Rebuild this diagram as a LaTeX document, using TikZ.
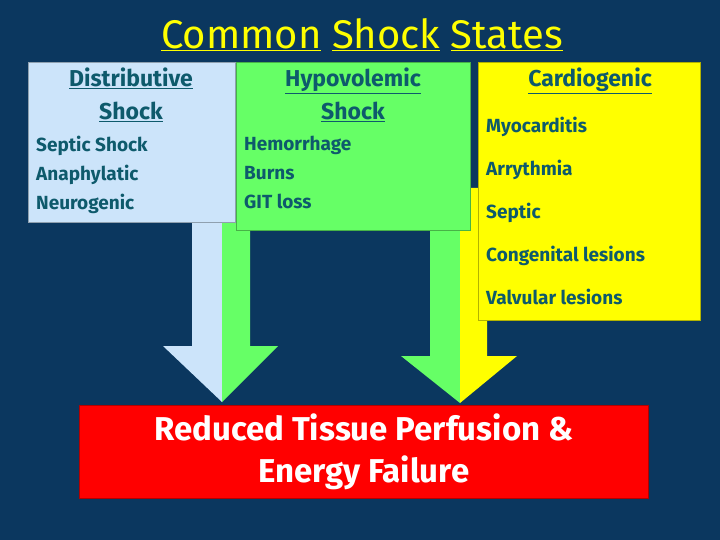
\documentclass[tikz,border=0pt]{standalone}
\usepackage{fontspec}
\setmainfont{Fira Sans}
\begin{document}
\begin{tikzpicture}[x=1pt,y=-1pt,
  box/.style={draw=#1!70!black,line width=0.6pt,anchor=north west,inner sep=0pt},
  txt/.style={text=tealtxt,font=\fontsize{19}{29}\selectfont\bfseries,align=left,anchor=north west,inner sep=0pt}]
\definecolor{bg}{HTML}{0B375F}
\definecolor{tealtxt}{HTML}{0E5A6C}
\definecolor{lblue}{HTML}{CCE4FA}
\definecolor{lgreen}{HTML}{66FF66}
\definecolor{yel}{HTML}{FFFF00}
\fill[bg] (0,0) rectangle (720,540);
\useasboundingbox (0,0) rectangle (720,540);
% arrows
\fill[lblue] (192,210) -- (222,210) -- (222,402) -- (163,346) -- (192,346) -- cycle;
\fill[lgreen] (222,210) -- (250,210) -- (250,346) -- (278,346) -- (222,402) -- cycle;
\fill[lgreen] (430,188) -- (460,188) -- (460,403) -- (401,356) -- (430,356) -- cycle;
\fill[yel] (460,188) -- (487,188) -- (487,356) -- (517,356) -- (460,403) -- cycle;
% boxes
\node[box=lblue,fill=lblue,minimum width=207pt,minimum height=160pt] (d) at (28,62) {};
\node[box=lgreen,fill=lgreen,minimum width=234pt,minimum height=168pt] (h) at (236,62) {};
\node[box=yel,fill=yel,minimum width=222pt,minimum height=258pt] (c) at (478,62) {};
\node[box=red,fill=red,minimum width=569pt,minimum height=93pt] (r) at (79,405) {};
\node[text=yel,font=\fontsize{40}{44}\selectfont] (t) at (362,35) {\underline{Common} \underline{Shock} \underline{States}};
\node[text=tealtxt,font=\fontsize{23}{33}\selectfont\bfseries,align=center,anchor=north,inner sep=0pt] (dt) at (131,68) {\underline{Distributive}\\\underline{Shock}};
\node[txt] (dl) at (36,136) {Septic Shock\\Anaphylatic\\Neurogenic};
\node[text=tealtxt,font=\fontsize{23}{33}\selectfont\bfseries,align=center,anchor=north,inner sep=0pt] (ht) at (353,68) {\underline{Hypovolemic}\\\underline{Shock}};
\node[txt] (hl) at (244,136) {Hemorrhage\\Burns\\GIT loss};
\node[text=tealtxt,font=\fontsize{23}{33}\selectfont\bfseries,anchor=north,inner sep=0pt] (ct) at (590,68) {\underline{Cardiogenic}};
\node[txt,font=\fontsize{19}{43}\selectfont\bfseries] (cl) at (486,117) {Myocarditis\\Arrythmia\\Septic\\Congenital lesions\\Valvular lesions};
\node[text=white,font=\fontsize{33}{42}\selectfont\bfseries,align=center] (rt) at (r.center) {Reduced Tissue Perfusion \&\\Energy Failure};
\end{tikzpicture}
\end{document}
